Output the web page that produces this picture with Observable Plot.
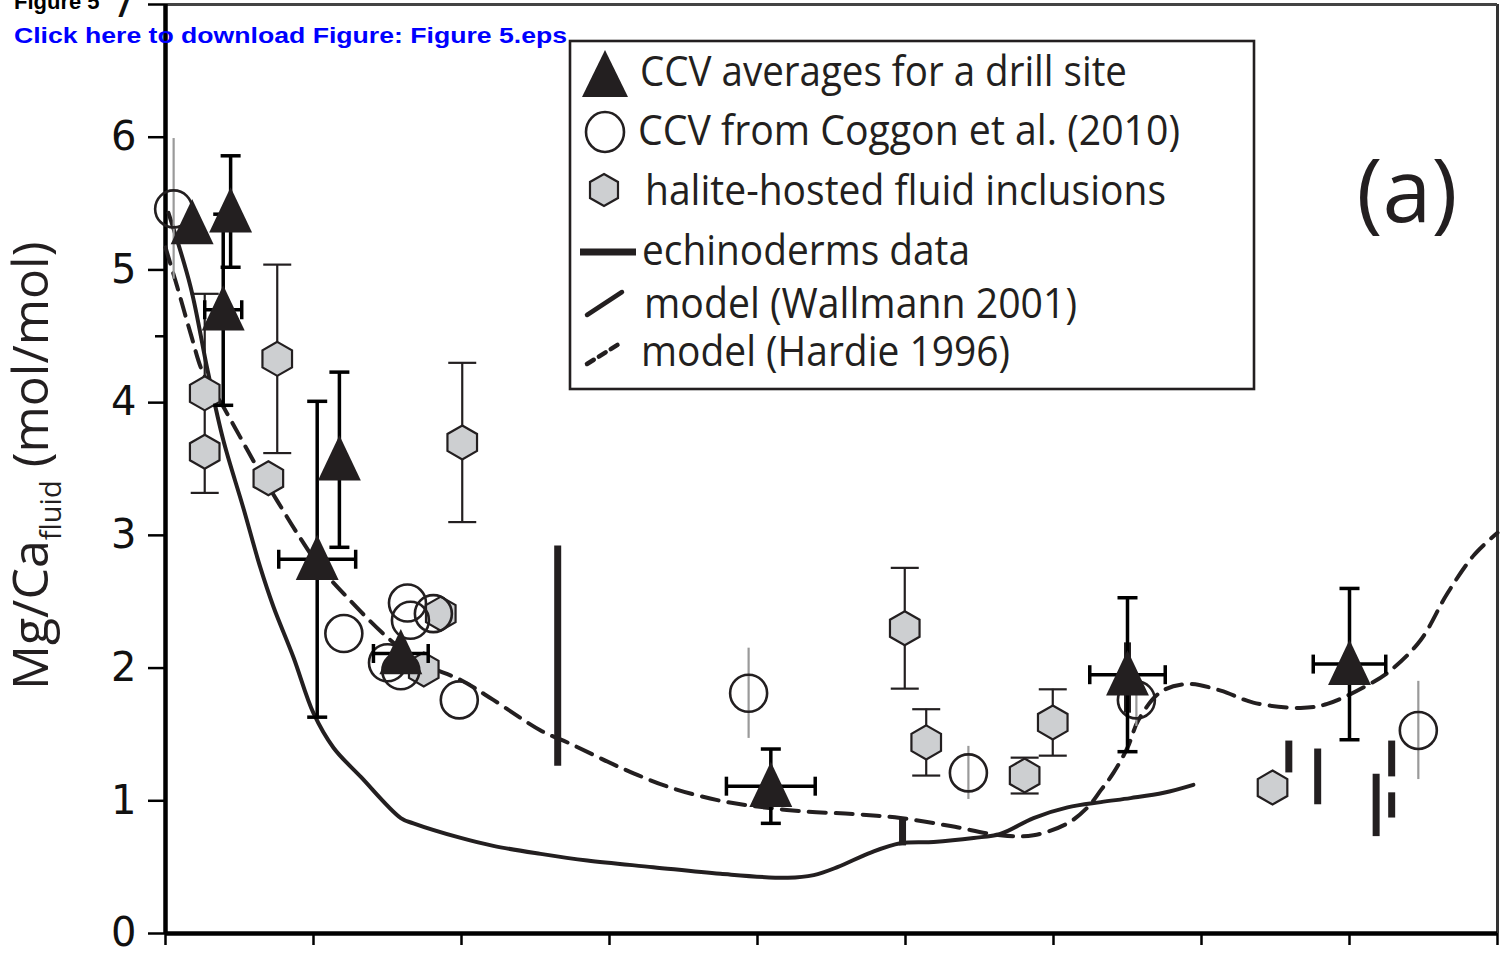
<!DOCTYPE html>
<html>
<head>
<meta charset="utf-8">
<script src="https://cdn.jsdelivr.net/npm/d3@7"></script>
<script src="https://cdn.jsdelivr.net/npm/@observablehq/plot@0.6"></script>
<style>
  html, body { margin: 0; padding: 0; background: #fff; }
  #wrap { position: relative; width: 1502px; height: 961px; overflow: hidden; }
</style>
</head>
<body>
<div id="wrap"></div>
<script>
// ---------- data ----------
// x: age-like axis, 0..180 (unlabelled ticks every 20); y: Mg/Ca fluid (mol/mol)
const xTicks = [0, 20, 40, 60, 80, 100, 120, 140, 160, 180];
const yTicks = [0, 1, 2, 3, 4, 5, 6, 7];
const yMinorTicks = [4.5];

// CCV averages for a drill site (filled triangles)
const triX = [3.6, 8.8, 7.8, 20.5, 23.5, 31.8, 81.8, 130.0, 160.0];
const triY = [5.35, 5.44, 4.70, 2.82, 3.57, 2.11, 1.11, 1.95, 2.03];
const triYErr = [0, 0.42, 0.72, 1.19, 0.66, 0, 0.28, 0.58, 0.57];
const triXErr = [0, 0, 2.5, 5.2, 0, 3.7, 6.0, 5.1, 4.9];

// CCV from Coggon et al. (2010) (open circles)
const cogX = [1.1, 24.1, 32.7, 33.1, 36.2, 30.0, 31.8, 39.7, 78.8, 108.5, 131.2, 169.3];
const cogY = [5.46, 2.26, 2.49, 2.36, 2.41, 2.04, 1.98, 1.76, 1.81, 1.21, 1.76, 1.53];
const cogErr = [0.53, 0, 0, 0, 0, 0, 0, 0, 0.34, 0.20, 0.20, 0.37];

// halite-hosted fluid inclusions (grey hexagons)
const hexX = [5.3, 5.3, 15.1, 13.9, 40.1, 37.2, 34.9, 99.9, 102.8, 116.1, 119.9, 149.6];
const hexY = [4.07, 3.63, 4.33, 3.43, 3.70, 2.41, 1.99, 2.30, 1.44, 1.19, 1.59, 1.10];
const hexErr = [0.75, 0, 0.71, 0, 0.60, 0, 0, 0.455, 0.25, 0.135, 0.25, 0];

// echinoderms data (thick vertical ranges)
const echX = [53.0, 99.6, 130.0, 151.8, 155.7, 163.6, 165.7, 165.7];
const echLo = [1.26, 0.66, 1.66, 1.21, 0.97, 0.73, 1.18, 0.87];
const echHi = [2.92, 0.87, 2.19, 1.45, 1.39, 1.20, 1.45, 1.06];

// model (Wallmann 2001) — solid curve
const wallX = [0.4, 3.4, 5.7, 7.8, 10.5, 12.8, 14.6, 17.3, 20.0, 22.7, 26.4, 31.8, 33.5, 39.9, 44.3, 50.7, 57.0, 65.9, 75.0, 84.1, 87.6, 90.8, 95.3, 99.3, 103.8, 109.2, 112.8, 117.3, 121.9, 126.4, 130.4, 134.9, 138.9];
const wallY = [5.43, 4.87, 4.24, 3.72, 3.21, 2.76, 2.46, 2.08, 1.66, 1.40, 1.18, 0.87, 0.83, 0.72, 0.66, 0.60, 0.55, 0.50, 0.45, 0.42, 0.44, 0.50, 0.61, 0.68, 0.69, 0.72, 0.75, 0.87, 0.95, 0.99, 1.02, 1.06, 1.12];

// model (Hardie 1996) — dashed curve
const hardX = [0, 1.6, 3.4, 5.1, 7.7, 10.1, 12.4, 15.1, 18.2, 20.9, 24.6, 30.0, 34.5, 39.9, 44.3, 50.7, 54.7, 61.5, 68.2, 75.0, 79.5, 86.2, 93.0, 99.3, 106.1, 112.8, 117.3, 121.9, 124.6, 126.4, 128.1, 130.0, 131.5, 134.5, 138.1, 142.6, 147.0, 153.4, 157.0, 162.4, 165.5, 169.6, 173.2, 176.8, 180.0];
const hardY = [5.17, 4.87, 4.52, 4.22, 3.98, 3.74, 3.51, 3.26, 2.98, 2.76, 2.53, 2.23, 2.04, 1.91, 1.76, 1.53, 1.43, 1.25, 1.10, 1.00, 0.96, 0.92, 0.90, 0.87, 0.81, 0.74, 0.74, 0.83, 0.95, 1.08, 1.21, 1.40, 1.61, 1.82, 1.88, 1.83, 1.74, 1.70, 1.73, 1.87, 1.98, 2.21, 2.56, 2.85, 3.02];

const legendLabels = [
  "CCV averages for a drill site",
  "CCV from Coggon et al. (2010)",
  "halite-hosted fluid inclusions",
  "echinoderms data",
  "model (Wallmann 2001)",
  "model (Hardie 1996)"
];
const panelLabel = "(a)";
const headerTitle = "Figure 5";
const headerLink = "Click here to download Figure: Figure 5.eps";

// ---------- tables ----------
const tri = triX.map((x, i) => ({x, y: triY[i], ex: triXErr[i], ey: triYErr[i]}));
const cog = cogX.map((x, i) => ({x, y: cogY[i], e: cogErr[i]}));
const hex = hexX.map((x, i) => ({x, y: hexY[i], e: hexErr[i]}));
const ech = echX.map((x, i) => ({x, lo: echLo[i], hi: echHi[i]}));
const wall = wallX.map((x, i) => ({x, y: wallY[i]}));
const hard = hardX.map((x, i) => ({x, y: hardY[i]}));

const triV = tri.filter(d => d.ey > 0);
const triH = tri.filter(d => d.ex > 0);
const triVCaps = triV.flatMap(d => [{x: d.x, y: d.y - d.ey}, {x: d.x, y: d.y + d.ey}]);
const triHCaps = triH.flatMap(d => [{x: d.x - d.ex, y: d.y}, {x: d.x + d.ex, y: d.y}]);
const hexE = hex.filter(d => d.e > 0);
const hexCaps = hexE.flatMap(d => [{x: d.x, y: d.y - d.e}, {x: d.x, y: d.y + d.e}]);
const cogE = cog.filter(d => d.e > 0);

// ---------- custom symbols ----------
const hcap = {draw(c, s) { const r = Math.sqrt(s / Math.PI); c.moveTo(-r, 0); c.lineTo(r, 0); }};
const vcap = {draw(c, s) { const r = Math.sqrt(s / Math.PI); c.moveTo(0, -r); c.lineTo(0, r); }};
const triSym = {draw(c, s) {
  const r = Math.sqrt(s / Math.PI);
  c.moveTo(0, -1.25 * r); c.lineTo(1.1 * r, 1.07 * r); c.lineTo(-1.1 * r, 1.07 * r); c.closePath();
}};
const hexSym = {draw(c, s) {
  const r = Math.sqrt(s / Math.PI), w = r * 0.87;
  c.moveTo(0, -r); c.lineTo(w, -r / 2); c.lineTo(w, r / 2); c.lineTo(0, r);
  c.lineTo(-w, r / 2); c.lineTo(-w, -r / 2); c.closePath();
}};

const ink = "#231f20";

const chart = Plot.plot({
  width: 1502,
  height: 961,
  marginLeft: 165,
  marginRight: 5,
  marginTop: 4,
  marginBottom: 28,
  x: {domain: [0, 180]},
  y: {domain: [0, 7]},
  style: {background: "#ffffff", overflow: "visible", fontFamily: "Open Sans"},
  marks: [
    Plot.axisX({ticks: xTicks, tickSize: 12, tickFormat: () => "", label: null, stroke: "#000", strokeWidth: 2.5}),
    Plot.axisY({ticks: yTicks, tickSize: 17, tickPadding: 12, label: null, fontSize: 40,
      tickFormat: d => String(d),
      fontFamily: "DejaVu Sans", stroke: "#000", strokeWidth: 2.5, fill: "#111"}),
    Plot.axisY({ticks: yMinorTicks, tickSize: 10, tickFormat: () => "", label: null, stroke: "#000", strokeWidth: 2.5}),
    Plot.ruleX([180], {stroke: "#333", strokeWidth: 3}),
    Plot.ruleY([7], {stroke: "#444", strokeWidth: 3}),
    Plot.ruleX([0], {stroke: "#000", strokeWidth: 4.5}),
    Plot.ruleY([0], {stroke: "#000", strokeWidth: 4.5}),

    Plot.line(wall, {x: "x", y: "y", curve: "catmull-rom", stroke: ink, strokeWidth: 4}),
    Plot.line(hard, {x: "x", y: "y", curve: "catmull-rom", stroke: ink, strokeWidth: 4, strokeDasharray: "17,10"}),

    Plot.ruleX(ech, {x: "x", y1: "lo", y2: "hi", stroke: ink, strokeWidth: 7}),

    Plot.ruleX(cogE, {x: "x", y1: d => d.y - d.e, y2: d => d.y + d.e, stroke: "#9a9a9a", strokeWidth: 2.2}),

    Plot.ruleX(hexE, {x: "x", y1: d => d.y - d.e, y2: d => d.y + d.e, stroke: ink, strokeWidth: 2.2}),
    Plot.dot(hexCaps, {x: "x", y: "y", symbol: hcap, r: 14, fill: "none", stroke: ink, strokeWidth: 2.2}),
    Plot.dot(hex, {x: "x", y: "y", symbol: hexSym, r: 17, fill: "#cdcfd1", stroke: ink, strokeWidth: 2.2}),

    Plot.dot(cog, {x: "x", y: "y", r: 18.5, fill: "none", stroke: ink, strokeWidth: 2.6}),

    Plot.ruleX(triV, {x: "x", y1: d => d.y - d.ey, y2: d => d.y + d.ey, stroke: "#000", strokeWidth: 3.5}),
    Plot.ruleY(triH, {y: "y", x1: d => d.x - d.ex, x2: d => d.x + d.ex, stroke: "#000", strokeWidth: 3.5}),
    Plot.dot(triVCaps, {x: "x", y: "y", symbol: hcap, r: 10, fill: "none", stroke: "#000", strokeWidth: 3.5}),
    Plot.dot(triHCaps, {x: "x", y: "y", symbol: vcap, r: 9.5, fill: "none", stroke: "#000", strokeWidth: 3.5}),
    Plot.dot(tri, {x: "x", y: "y", symbol: triSym, r: 19.5, fill: ink, stroke: "none"})
  ]
});

document.getElementById("wrap").appendChild(chart);

// ---------- annotations (header, y label, panel label, legend) ----------
const svg = d3.select(chart);
const ann = svg.append("g").attr("font-family", "Open Sans").attr("text-anchor", "start");

// header
ann.append("text").attr("x", 14).attr("y", 9).attr("font-family", "Liberation Sans, Arial")
  .attr("font-weight", "bold").attr("font-size", 22).attr("fill", "#000").text(headerTitle);
ann.append("text").attr("x", 14).attr("y", 43).attr("font-family", "Liberation Sans, Arial")
  .attr("font-weight", "bold").attr("font-size", 22).attr("fill", "#0000ff")
  .attr("textLength", 553).attr("lengthAdjust", "spacingAndGlyphs").text(headerLink);

// y-axis label
const yl = ann.append("text").attr("transform", "translate(48,690) rotate(-90)")
  .attr("font-size", 50).attr("fill", ink);
yl.append("tspan").text("Mg/Ca");
yl.append("tspan").attr("font-size", 29).attr("dy", 13).text("fluid");
yl.append("tspan").attr("dy", -13).text(" (mol/mol)");

// panel label
ann.append("text").attr("x", 1407).attr("y", 222).attr("text-anchor", "middle")
  .attr("font-size", 88).attr("fill", ink).text(panelLabel);

// legend
const lg = ann.append("g");
lg.append("rect").attr("x", 570).attr("y", 41).attr("width", 684).attr("height", 348)
  .attr("fill", "#fff").attr("stroke", ink).attr("stroke-width", 2.6);
lg.append("path").attr("d", "M605,50 L628,97 L582,97 Z").attr("fill", ink);
lg.append("ellipse").attr("cx", 605).attr("cy", 132).attr("rx", 19).attr("ry", 20)
  .attr("fill", "none").attr("stroke", ink).attr("stroke-width", 2.6);
lg.append("path").attr("d", "M604,174 L618,182 L618,198 L604,206 L590,198 L590,182 Z")
  .attr("fill", "#cdcfd1").attr("stroke", ink).attr("stroke-width", 2.2);
lg.append("line").attr("x1", 580).attr("x2", 636).attr("y1", 252).attr("y2", 252)
  .attr("stroke", ink).attr("stroke-width", 7);
lg.append("line").attr("x1", 587).attr("y1", 315).attr("x2", 622).attr("y2", 292)
  .attr("stroke", ink).attr("stroke-width", 4.5).attr("stroke-linecap", "round");
lg.append("line").attr("x1", 587).attr("y1", 364).attr("x2", 622).attr("y2", 342)
  .attr("stroke", ink).attr("stroke-width", 4.5).attr("stroke-linecap", "round")
  .attr("stroke-dasharray", "8,6");

const lx = [640, 638, 645, 642, 644, 641];
const ly = [86, 145, 205, 265, 318, 366];
const lw = [487, 542, 521, 328, 433, 369];
legendLabels.forEach((t, i) => {
  lg.append("text").attr("x", lx[i]).attr("y", ly[i]).attr("font-size", 42).attr("fill", ink)
    .attr("textLength", lw[i]).attr("lengthAdjust", "spacingAndGlyphs").text(t);
});
</script>
</body>
</html>
